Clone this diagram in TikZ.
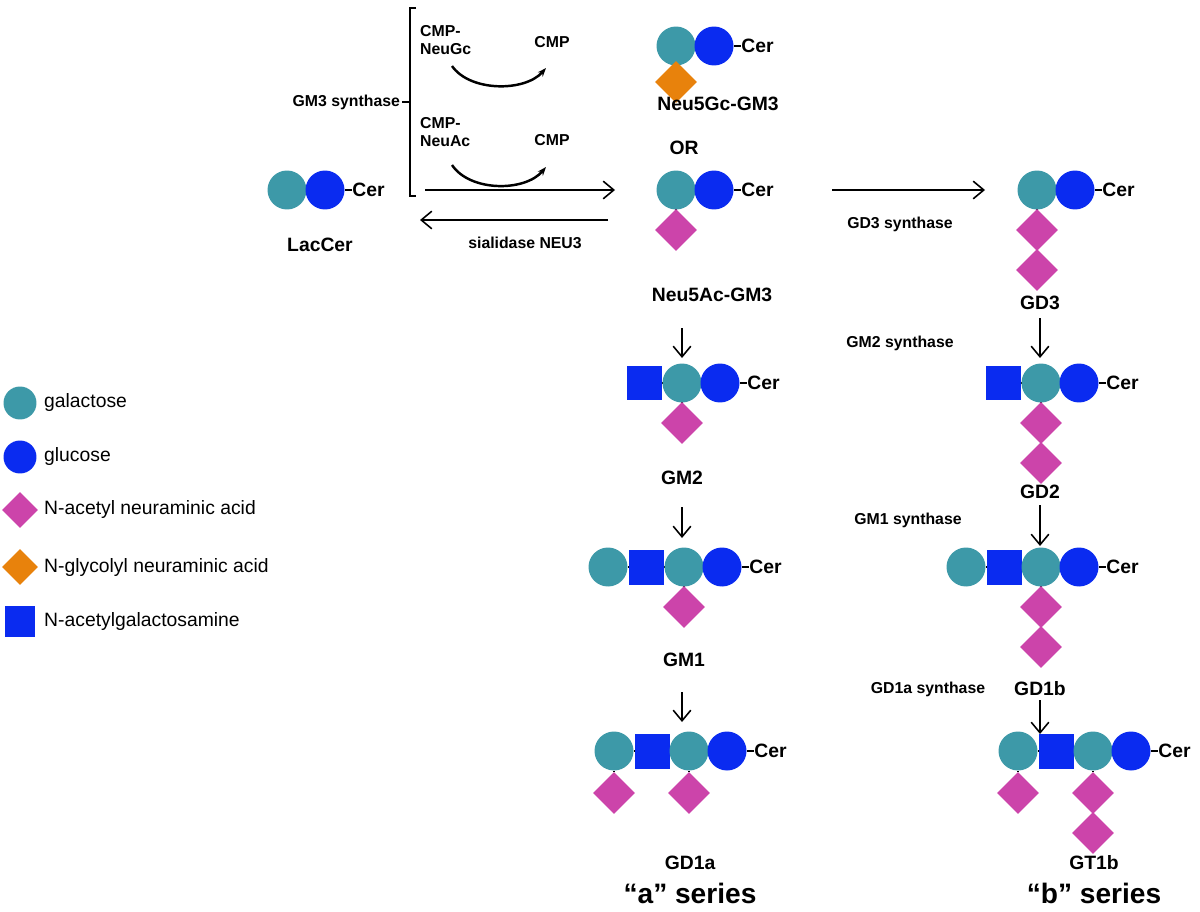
\documentclass[tikz,border=0pt]{standalone}
\usepackage{fontspec}
\setmainfont{Liberation Sans}
\usetikzlibrary{shapes.geometric,backgrounds,arrows.meta}
\definecolor{galc}{HTML}{3D99A8}
\definecolor{glcc}{HTML}{0A2BF0}
\definecolor{neuacc}{HTML}{CC44AA}
\definecolor{neugcc}{HTML}{E8820C}
\tikzset{
  gal/.style={circle,fill=galc,minimum size=0.78cm,inner sep=0},
  glc/.style={circle,fill=glcc,minimum size=0.78cm,inner sep=0},
  galnac/.style={rectangle,fill=glcc,minimum size=0.7cm,inner sep=0},
  neuac/.style={diamond,fill=neuacc,minimum size=0.84cm,inner sep=0},
  neugc/.style={diamond,fill=neugcc,minimum size=0.84cm,inner sep=0},
  lnk/.style={line width=1.2pt},
  cer/.style={right,inner sep=0,font=\bfseries\fontsize{11}{12}\selectfont},
  lab/.style={font=\bfseries\fontsize{11}{12}\selectfont},
  enz/.style={font=\bfseries\fontsize{9}{10}\selectfont},
  ser/.style={font=\bfseries\fontsize{16}{18}\selectfont},
  leg/.style={right,font=\fontsize{11}{12}\selectfont},
  rxn/.style={line width=0.9pt,-{Straight Barb[length=6pt,width=10pt]}},
  curv/.style={line width=1.4pt,-{Stealth[length=5pt]}}
}
\begin{document}
\begin{tikzpicture}[x=0.02cm,y=-0.02cm]
\useasboundingbox (0,0) rectangle (1200,912);

% legend
\node[gal,minimum size=0.66cm] (lgal) at (20,403) {};
\node[leg] at (38,403) {galactose};
\node[glc,minimum size=0.66cm] (lglc) at (20,457) {};
\node[leg] at (38,457) {glucose};
\node[neuac,minimum size=0.72cm] (lneuac) at (20,510) {};
\node[leg] at (38,510) {N-acetyl neuraminic acid};
\node[neugc,minimum size=0.72cm] (lneugc) at (20,567) {};
\node[leg] at (38,567) {N-glycolyl neuraminic acid};
\node[galnac,minimum size=0.62cm] (lgalnac) at (20,621) {};
\node[leg] at (38,621) {N-acetylgalactosamine};

% LacCer
\node[gal] (lc1) at (287,190) {};
\node[glc] (lc2) at (325,190) {};
\node[cer] (lccer) at (352,190) {Cer};
\node[lab] at (320,245) {LacCer};

% GM3 synthase
\coordinate (bt) at (410,8);
\coordinate (bb) at (410,196);
\node[enz,left,inner sep=1pt] (gm3s) at (402,102) {GM3 synthase};
\draw[line width=0.9pt] ([xshift=0.12cm]bt) -| (bb) -- ([xshift=0.12cm]bb);
\draw[line width=0.9pt] (gm3s.east) -- (410,102);
\node[enz,right,align=left] (gcin) at (414,40) {CMP-\\NeuGc};
\node[enz] (gcout) at (552,42) {CMP};
\node[enz,right,align=left] (acin) at (414,132) {CMP-\\NeuAc};
\node[enz] (acout) at (552,140) {CMP};
\coordinate (gca) at (452,66);
\coordinate (gcb) at (546,68);
\coordinate (aca) at (452,165);
\coordinate (acb) at (546,167);
\draw[curv] (gca) .. controls (470,92) and (525,92) .. (gcb);
\draw[curv] (aca) .. controls (470,192) and (525,192) .. (acb);

\coordinate (fwa) at (425,190);
\coordinate (fwb) at (615,190);
\draw[rxn] (fwa) -- (fwb);
\coordinate (bka) at (608,220);
\coordinate (bkb) at (420,220);
\draw[rxn] (bka) -- (bkb);
\node[enz] at (525,243) {sialidase NEU3};

% Neu5Gc-GM3
\node[gal] (gc1) at (676,46) {};
\node[glc] (gc2) at (714,46) {};
\node[cer] (gccer) at (741,46) {Cer};
\node[neugc] (gc3) at (676,82) {};
\node[lab] at (718,104) {Neu5Gc-GM3};
\node[lab] at (684,148) {OR};

% Neu5Ac-GM3
\node[gal] (m31) at (676,190) {};
\node[glc] (m32) at (714,190) {};
\node[cer] (m3cer) at (741,190) {Cer};
\node[neuac] (m33) at (676,230) {};
\node[lab] (m3lab) at (712,295) {Neu5Ac-GM3};

% GD3
\coordinate (gd3a) at (832,190);
\coordinate (gd3b) at (985,190);
\draw[rxn] (gd3a) -- (gd3b);
\node[enz] at (900,224) {GD3 synthase};
\node[gal] (d31) at (1037,190) {};
\node[glc] (d32) at (1075,190) {};
\node[cer] (d3cer) at (1102,190) {Cer};
\node[neuac] (d33) at (1037,230) {};
\node[neuac] (d34) at (1037,270) {};
\node[lab] (d3lab) at (1040,303) {GD3};

% GM2 / GD2
\node[enz] at (900,343) {GM2 synthase};
\node[galnac] (m21) at (644,383) {};
\node[gal] (m22) at (682,383) {};
\node[glc] (m23) at (720,383) {};
\node[cer] (m2cer) at (747,383) {Cer};
\node[neuac] (m24) at (682,423) {};
\node[lab] (m2lab) at (682,478) {GM2};
\node[galnac] (d21) at (1003,383) {};
\node[gal] (d22) at (1041,383) {};
\node[glc] (d23) at (1079,383) {};
\node[cer] (d2cer) at (1106,383) {Cer};
\node[neuac] (d24) at (1041,423) {};
\node[neuac] (d25) at (1041,463) {};
\node[lab] (d2lab) at (1040,492) {GD2};
\coordinate (am2a) at (682,328); \coordinate (am2b) at (682,358);
\coordinate (bd2a) at (1040,318); \coordinate (bd2b) at (1040,358);
\draw[rxn] (am2a) -- (am2b);
\draw[rxn] (bd2a) -- (bd2b);

% GM1 / GD1b
\node[enz] at (908,520) {GM1 synthase};
\node[gal] (m11) at (608,567) {};
\node[galnac] (m12) at (646,567) {};
\node[gal] (m13) at (684,567) {};
\node[glc] (m14) at (722,567) {};
\node[cer] (m1cer) at (749,567) {Cer};
\node[neuac] (m15) at (684,607) {};
\node[lab] (m1lab) at (684,660) {GM1};
\node[gal] (b11) at (966,567) {};
\node[galnac] (b12) at (1004,567) {};
\node[gal] (b13) at (1041,567) {};
\node[glc] (b14) at (1079,567) {};
\node[cer] (b1cer) at (1106,567) {Cer};
\node[neuac] (b15) at (1041,607) {};
\node[neuac] (b16) at (1041,647) {};
\node[lab] (b1lab) at (1040,689) {GD1b};
\coordinate (am1a) at (682,507); \coordinate (am1b) at (682,538);
\coordinate (bd1a) at (1040,505); \coordinate (bd1b) at (1040,546);
\draw[rxn] (am1a) -- (am1b);
\draw[rxn] (bd1a) -- (bd1b);

% GD1a / GT1b
\node[enz] at (928,689) {GD1a synthase};
\node[gal] (a11) at (614,751) {};
\node[galnac] (a12) at (652,751) {};
\node[gal] (a13) at (689,751) {};
\node[glc] (a14) at (727,751) {};
\node[cer] (a1cer) at (754,751) {Cer};
\node[neuac] (a15) at (614,793) {};
\node[neuac] (a16) at (689,793) {};
\node[lab] at (690,863) {GD1a};
\node[ser] at (690,893) {“a” series};
\node[gal] (t11) at (1018,751) {};
\node[galnac] (t12) at (1056,751) {};
\node[gal] (t13) at (1093,751) {};
\node[glc] (t14) at (1131,751) {};
\node[cer] (t1cer) at (1158,751) {Cer};
\node[neuac] (t15) at (1018,793) {};
\node[neuac] (t16) at (1093,793) {};
\node[neuac] (t17) at (1093,833) {};
\node[lab] at (1094,863) {GT1b};
\node[ser] at (1094,893) {“b” series};
\coordinate (aa1a) at (682,692); \coordinate (aa1b) at (682,722);
\coordinate (bt1a) at (1040,700); \coordinate (bt1b) at (1040,734);
\draw[rxn] (aa1a) -- (aa1b);
\draw[rxn] (bt1a) -- (bt1b);

% glycosidic links
\begin{scope}[on background layer]
\draw[lnk] (lc1) -- (lc2) -- (lccer);
\draw[lnk] (gc1) -- (gc2) -- (gccer); \draw[lnk] (gc1) -- (gc3);
\draw[lnk] (m31) -- (m32) -- (m3cer); \draw[lnk] (m31) -- (m33);
\draw[lnk] (d31) -- (d32) -- (d3cer); \draw[lnk] (d31) -- (d33) -- (d34);
\draw[lnk] (m21) -- (m22) -- (m23) -- (m2cer); \draw[lnk] (m22) -- (m24);
\draw[lnk] (d21) -- (d22) -- (d23) -- (d2cer); \draw[lnk] (d22) -- (d24) -- (d25);
\draw[lnk] (m11) -- (m12) -- (m13) -- (m14) -- (m1cer); \draw[lnk] (m13) -- (m15);
\draw[lnk] (b11) -- (b12) -- (b13) -- (b14) -- (b1cer); \draw[lnk] (b13) -- (b15) -- (b16);
\draw[lnk] (a11) -- (a12) -- (a13) -- (a14) -- (a1cer); \draw[lnk] (a11) -- (a15); \draw[lnk] (a13) -- (a16);
\draw[lnk] (t11) -- (t12) -- (t13) -- (t14) -- (t1cer); \draw[lnk] (t11) -- (t15); \draw[lnk] (t13) -- (t16) -- (t17);
\end{scope}
\end{tikzpicture}
\end{document}
